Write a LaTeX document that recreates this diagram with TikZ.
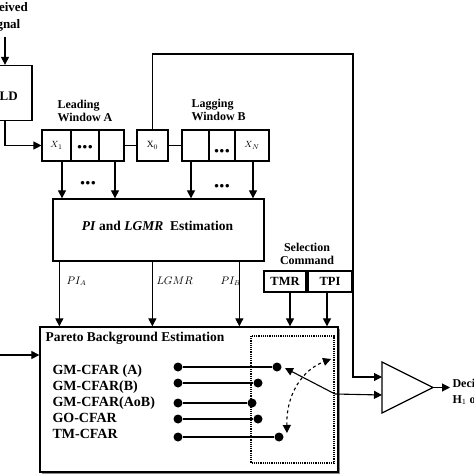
\documentclass[tikz,border=0pt]{standalone}
\usepackage{fontspec}
\setmainfont{Liberation Serif}
\usetikzlibrary{arrows.meta,shadows,calc}
\begin{document}
\begin{tikzpicture}[x=1pt,y=-1pt,
  line width=1.1pt,
  arr/.style={-{Triangle[length=8pt,width=8pt]}},
  blk/.style={draw,line width=1.3pt,fill=white,inner sep=0pt},
  cell/.style={draw,line width=1.1pt,minimum height=31pt,inner sep=0pt,font=\fontsize{9.5}{10}\selectfont},
  bl/.style={font=\fontsize{12}{13}\selectfont\bfseries,inner sep=0pt},
  cf/.style={font=\fontsize{14}{16}\selectfont\bfseries,inner sep=0pt,anchor=base west},
  ml/.style={font=\fontsize{10.5}{12}\selectfont,inner sep=0pt,anchor=base west},
  dot/.style={circle,fill=black,minimum size=9pt,inner sep=0pt},
  dts/.style={font=\fontsize{13}{14}\selectfont\bfseries,inner sep=0pt}
]
\useasboundingbox (0,0) rectangle (474,474);

% received signal and CLD
\node[bl,align=center,font=\fontsize{13}{17}\selectfont\bfseries,anchor=base] (recv) at (3,28) {Received\\Signal};
\node[blk,minimum width=56pt,minimum height=55pt] (cld) at (4,93) {};
\node[bl,font=\fontsize{13}{14}\selectfont\bfseries,anchor=base] (cldt) at (4,100) {CLD};
\draw[arr] (5,37) coordinate (ra) -- (ra |- cld.north);

% windows
\node[bl,align=left,anchor=base west] (lead) at (57,121) {Leading\\Window A};
\node[bl,align=left,anchor=base west] (lag) at (191,120) {Lagging\\Window B};
\node[cell,minimum width=29pt] (a1) at (56.5,145.5) {$X_1$};
\node[cell,minimum width=28pt] (a2) at (85,145.5) {};
\node[cell,minimum width=25pt] (a3) at (111.5,145.5) {};
\node[cell,minimum width=31pt] (x0) at (152.5,145.5) {X$_0$};
\node[cell,minimum width=27pt] (b1) at (195.5,145.5) {};
\node[cell,minimum width=26pt] (b2) at (222,145.5) {};
\node[cell,minimum width=34pt] (b3) at (252,145.5) {$X_N$};
\node[dts] (da) at (85,148) {\textbullet\kern0.8pt\textbullet\kern0.8pt\textbullet};
\node[dts] (db) at (222,152) {\textbullet\kern0.8pt\textbullet\kern0.8pt\textbullet};
\draw (a3.east) -- (x0.west);
\draw (x0.east) -- (b1.west);
\draw[arr] (cld.south -| ra) |- (a1.west);

% PI and LGMR estimation
\node[blk,minimum width=211pt,minimum height=62pt] (pi) at (158.5,230) {};
\node[font=\fontsize{13.5}{15}\selectfont\bfseries,inner sep=0pt,anchor=base] (pit) at (157.5,230) {\textit{PI} and \textit{LGMR}\enspace Estimation};
\node[dts] (dc) at (88,184) {\textbullet\kern0.8pt\textbullet\kern0.8pt\textbullet};
\node[dts] (dd) at (222,187) {\textbullet\kern0.8pt\textbullet\kern0.8pt\textbullet};
\draw[arr] ([xshift=5.5pt]a1.south) coordinate (s1) -- (s1 |- pi.north);
\draw[arr] ([xshift=3.5pt]a3.south) coordinate (s2) -- (s2 |- pi.north);
\draw[arr] ([xshift=-4.5pt]b1.south) coordinate (s3) -- (s3 |- pi.north);
\draw[arr] ([xshift=1pt]b3.south) coordinate (s4) -- (s4 |- pi.north);

% selection command
\node[bl,align=center,font=\fontsize{12}{13}\selectfont\bfseries,anchor=base] (sel) at (307,264) {Selection\\Command};
\node[draw,line width=1.1pt,minimum width=42pt,minimum height=21pt,inner sep=0pt,font=\fontsize{12.5}{13}\selectfont\bfseries] (tmr) at (285,281.5) {TMR};
\node[draw,line width=1.1pt,minimum width=44pt,minimum height=21pt,inner sep=0pt,font=\fontsize{12.5}{13}\selectfont\bfseries] (tpi) at (330,281.5) {TPI};

% Pareto box
\node[blk,minimum width=298pt,minimum height=145pt,drop shadow={shadow xshift=2pt,shadow yshift=-2pt,opacity=1,fill=black!45}] (par) at (189,399.5) {};
\node[font=\fontsize{13.5}{15}\selectfont\bfseries,inner sep=0pt,anchor=base west] (part) at (45,341.5) {Pareto Background Estimation};

\draw[arr] ([xshift=7pt]pi.south west) coordinate (p1) -- (p1 |- par.north);
\draw[arr] ([xshift=100pt]pi.south west) coordinate (p2) -- (p2 |- par.north);
\draw[arr] ([xshift=187pt]pi.south west) coordinate (p3) -- (p3 |- par.north);
\node[ml] (lpa) at (66,284) {$PI_A$};
\node[ml] (llg) at (156,284) {$LGMR$};
\node[ml] (lpb) at (220,284) {$PI_B$};
\draw[arr] ([xshift=5pt]tmr.south) coordinate (t1) -- (t1 |- par.north);
\draw[arr] ([xshift=-3pt]tpi.south) coordinate (t2) -- (t2 |- par.north);

\coordinate (lin) at (-5,355);
\draw[arr] (lin) -- (lin -| par.west);

\node[cf] (c1) at (52,374.5) {GM-CFAR (A)};
\node[cf] (c2) at (52,390.5) {GM-CFAR(B)};
\node[cf] (c3) at (52,406.5) {GM-CFAR(AoB)};
\node[cf] (c4) at (52,422.5) {GO-CFAR};
\node[cf] (c5) at (52,438.5) {TM-CFAR};

\node[dot] (l1) at (178,367) {};
\node[dot] (l2) at (178,383) {};
\node[dot] (l3) at (178,403) {};
\node[dot] (l4) at (178,419) {};
\node[dot] (l5) at (178,437) {};
\node[dot] (r1) at (277,367) {};
\node[dot] (r2) at (258,383) {};
\node[dot] (r3) at (252,403) {};
\node[dot] (r4) at (258,419) {};
\node[dot] (r5) at (279,437) {};
\draw (l1) -- (r1);
\draw (l2) -- (r2);
\draw (l3) -- (r3);
\draw (l4) -- (r4);
\draw (l5) -- (r5);

\draw[densely dotted,line width=1.2pt] (251,336) rectangle (334,463);
\coordinate (piv) at (335,394);
\draw[arr] (piv) -- (285,368);
\draw[dashed,{Triangle[length=8pt,width=8pt]}-{Triangle[length=8pt,width=8pt]}] (287,433) .. controls (286,395) and (302,370) .. (331,359);

% comparator
\coordinate (ct) at (382,362);
\coordinate (cb) at (382,413);
\coordinate (cap) at (433,387.5);
\draw[line width=1.2pt] (ct) -- (cap) -- (cb) -- cycle;
\coordinate (in1) at (382,377);
\coordinate (in2) at (382,395);
\coordinate (tr) at (353,54);
\draw[arr] (x0.north) -- (x0.north |- tr) -- (tr) -- (tr |- in1) -- (in1);
\draw[arr] (piv) -- (in2);
\coordinate (out) at (450,387.5);
\draw[arr] (cap) -- (out);
\node[bl,align=left,anchor=base west,font=\fontsize{12}{16}\selectfont\bfseries] (dec) at (452,403) {Decision\\H$_1$ or H$_0$};
\end{tikzpicture}
\end{document}
